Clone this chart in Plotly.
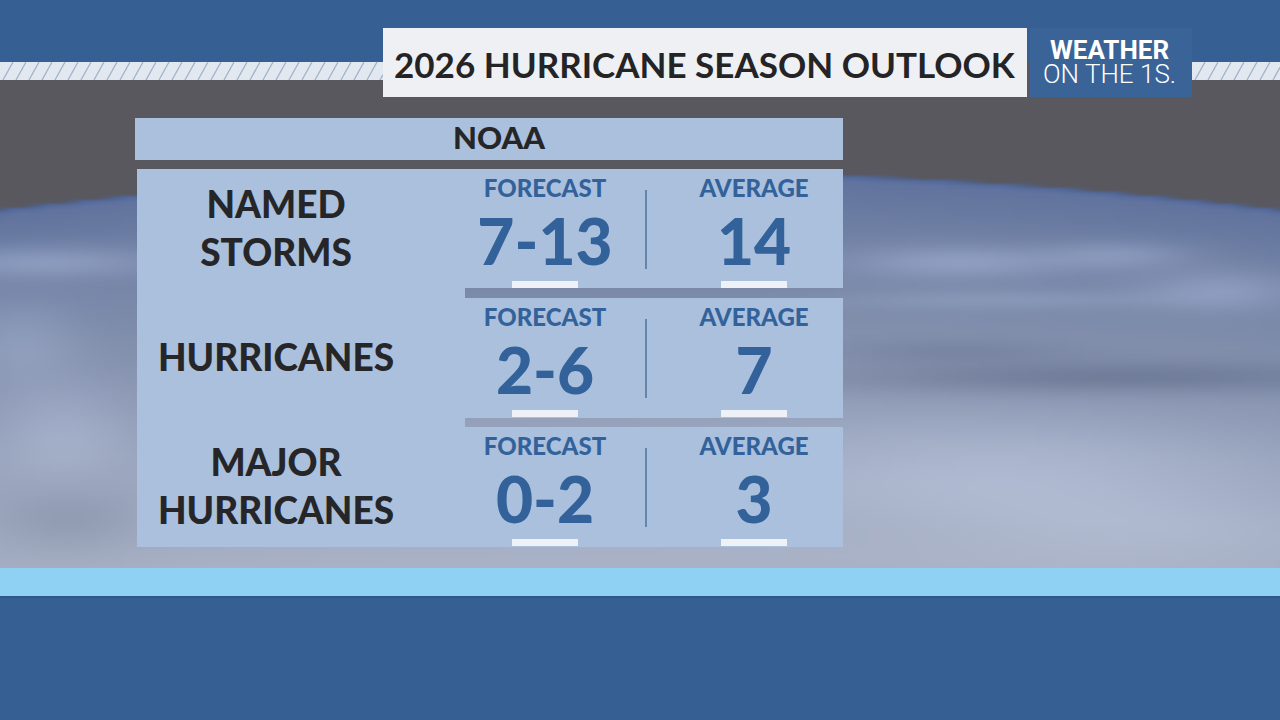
import base64
import struct
import zlib

import numpy as np
import plotly.graph_objects as go

# ---------------- data ----------------
title_text = "2026 HURRICANE SEASON OUTLOOK"
source_label = "NOAA"
categories = ["NAMED<br>STORMS", "HURRICANES", "MAJOR<br>HURRICANES"]
column_labels = ["FORECAST", "AVERAGE"]
forecast_low = [7, 2, 0]
forecast_high = [13, 6, 2]
average = [14, 7, 3]
logo_lines = ["WEATHER", "ON THE 1S."]

# ---------------- layout constants (pixels, top-down) ----------------
W, H = 1280, 720
PANEL_X0, PANEL_X1 = 137, 843
LABEL_X1 = 465
ROW_TOP = [169, 298, 427]
ROW_H = 120
LABEL_CX = 276
COL_CX = [545, 754]
DIVIDER_X = 646

DARK = "#262629"
BLUE_TXT = "#33629b"
PANEL = "#aac0dd"
TOP_BLUE = "#365f93"
HEAVY = "Lato Black, Lato"


def Y(py):
    return H - py


# ---------------- background image (earth from orbit, soft) ----------------
def make_bg():
    w, h, s = 320, 180, 4
    X, Yp = np.meshgrid((np.arange(w) + 0.5) * s, (np.arange(h) + 0.5) * s)
    hz = 172 + 38 * ((X - 640) / 640) ** 2
    d = Yp - hz
    dk = np.stack([np.full_like(X, 88), np.full_like(X, 88), np.full_like(X, 94)], -1)
    stops = [0, 6, 60, 150, 260, 380]
    cols = [(78, 104, 165), (98, 116, 158), (114, 130, 165), (130, 143, 173),
            (152, 163, 188), (168, 177, 197)]
    earth = np.stack([np.interp(d, stops, [c[i] for c in cols]) for i in range(3)], -1)

    def blob(cx, cy, rx, ry, amp):
        return amp * np.exp(-(((X - cx) / rx) ** 2 + ((Yp - cy) / ry) ** 2))

    mod = (blob(960, 262, 110, 16, 26) + blob(1120, 255, 70, 14, 20)
           + blob(1220, 290, 80, 20, 22) + blob(1000, 300, 160, 10, 14)
           + blob(40, 262, 120, 16, 26) + blob(20, 340, 60, 40, 16)
           + blob(60, 430, 70, 50, 16)
           + blob(1000, 470, 260, 50, 18) + blob(1150, 530, 200, 40, 10)
           + blob(1100, 378, 260, 16, -24) + blob(950, 352, 120, 12, -12)
           + blob(70, 520, 70, 30, -14))
    earth = earth + mod[..., None]
    a = np.clip(d / 3 + 0.5, 0, 1)[..., None]
    img = np.clip(dk * (1 - a) + earth * a, 0, 255).astype(np.uint8)

    raw = b"".join(b"\x00" + img[i].tobytes() for i in range(h))

    def chunk(t, data):
        c = struct.pack(">I", len(data)) + t + data
        return c + struct.pack(">I", zlib.crc32(t + data) & 0xFFFFFFFF)

    png = (b"\x89PNG\r\n\x1a\n"
           + chunk(b"IHDR", struct.pack(">IIBBBBB", w, h, 8, 2, 0, 0, 0))
           + chunk(b"IDAT", zlib.compress(raw, 9)) + chunk(b"IEND", b""))
    return "data:image/png;base64," + base64.b64encode(png).decode()


fig = go.Figure()

shapes = []


def rect(x0, y0, x1, y1, color, layer="below"):
    shapes.append(dict(type="rect", xref="x", yref="y", x0=x0, x1=x1, y0=Y(y1), y1=Y(y0),
                       fillcolor=color, line=dict(width=0), layer=layer))


# top band + hatch stripe
rect(0, 0, W, 62, TOP_BLUE)
rect(0, 62, 383, 80, "#e2e8f0")
rect(1192, 62, W, 80, "#e2e8f0")
path = ""
for x0, x1 in [(0, 383), (1192, W)]:
    x = x0 - 10
    while x < x1:
        xa, ya, xb, yb = x, 80, x + 10, 62
        if xa < x0:
            ya = 80 - (x0 - xa) * 1.8
            xa = x0
        if xb > x1:
            yb = 62 + (xb - x1) * 1.8
            xb = x1
        if xb > xa:
            path += f"M{xa},{Y(ya)} L{xb},{Y(yb)} "
        x += 13
shapes.append(dict(type="path", xref="x", yref="y", path=path,
                   line=dict(color="#9fb2ca", width=1.3), layer="below"))

# title box and logo box
rect(383, 28, 1027, 97, "#eef0f3")
rect(1030, 28, 1192, 97, "#3a6498")

# NOAA header bar
rect(135, 118, PANEL_X1, 160, PANEL)
# label column
rect(PANEL_X0, ROW_TOP[0], LABEL_X1, ROW_TOP[-1] + ROW_H, PANEL)
# right rows
for rt in ROW_TOP:
    rect(LABEL_X1, rt, PANEL_X1, rt + ROW_H - (1 if rt == ROW_TOP[0] else 0), PANEL)
    shapes.append(dict(type="line", xref="x", yref="y", x0=DIVIDER_X, x1=DIVIDER_X,
                       y0=Y(rt + 21), y1=Y(rt + 100), line=dict(color="#4d72a3", width=1.5),
                       layer="below"))
    for cx in COL_CX:
        rect(cx - 33, rt + 112, cx + 33, rt + 119, "#eef1f5")

# bottom bands
rect(0, 568, W, 596, "#8ed1f3")
rect(0, 596, W, H, TOP_BLUE)
rect(0, 596, W, 598, "#2f5687")

# ---------------- text traces ----------------
common = dict(mode="text", hoverinfo="skip", showlegend=False, cliponaxis=False)

fig.add_trace(go.Scatter(x=[499], y=[Y(141)], text=[source_label],
                         textfont=dict(family=HEAVY, size=31, color=DARK, weight=900), **common))

fig.add_trace(go.Scatter(
    x=[LABEL_CX] * len(categories),
    y=[Y(ROW_TOP[i] + ROW_H / 2 + 4) for i in range(len(categories))],
    text=categories,
    textfont=dict(family=HEAVY, size=37, color=DARK, weight=900), **common))

for j, lab in enumerate(column_labels):
    fig.add_trace(go.Scatter(
        x=[COL_CX[j]] * len(categories),
        y=[Y(rt + 22) for rt in ROW_TOP],
        text=[lab] * len(categories),
        textfont=dict(family=HEAVY, size=24, color=BLUE_TXT, weight=900), **common))

forecast_text = [f"{lo}-{hi}" for lo, hi in zip(forecast_low, forecast_high)]
avg_text = [str(v) for v in average]
num_font = dict(family=HEAVY, size=64, color=BLUE_TXT, weight=900)
fig.add_trace(go.Scatter(x=[COL_CX[0]] * len(forecast_text), y=[Y(rt + 80) for rt in ROW_TOP],
                         text=forecast_text, textfont=num_font, **common))
fig.add_trace(go.Scatter(x=[COL_CX[1]] * len(avg_text), y=[Y(rt + 80) for rt in ROW_TOP],
                         text=avg_text, textfont=num_font, **common))

annotations = [
    dict(x=705, y=Y(64), xref="x", yref="y", text=title_text, showarrow=False,
         font=dict(family="Lato", size=35, color="#242427", weight=700)),
    dict(x=1109, y=Y(50), xref="x", yref="y", text=logo_lines[0], showarrow=False,
         font=dict(family="Roboto", size=26, color="white", weight=700)),
    dict(x=1109, y=Y(74), xref="x", yref="y", text=logo_lines[1], showarrow=False,
         font=dict(family="Roboto", size=26, color="white", weight=300)),
]

fig.update_layout(
    width=W, height=H, margin=dict(l=0, r=0, t=0, b=0),
    paper_bgcolor="#58585e", plot_bgcolor="rgba(0,0,0,0)",
    xaxis=dict(range=[0, W], visible=False, fixedrange=True),
    yaxis=dict(range=[0, H], visible=False, fixedrange=True),
    shapes=shapes, annotations=annotations,
    images=[dict(source=make_bg(), xref="paper", yref="paper", x=0, y=1, sizex=1, sizey=1,
                 xanchor="left", yanchor="top", sizing="stretch", layer="below")],
)

fig.write_html("out.html", config={"displayModeBar": False},
               post_script="document.body.style.margin='0';")
